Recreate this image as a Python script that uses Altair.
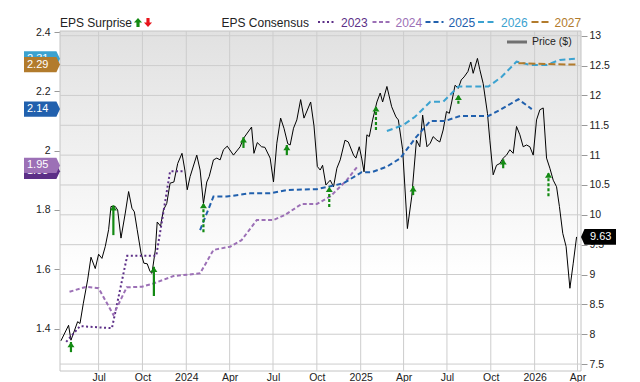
import altair as alt
import pandas as pd

# ---------------- data ----------------
BASE_DATE = pd.Timestamp("2023-07-01")   # day 0 of the offsets below

price_days = [-79, -63, -58, -44, -39, -32, -23, -16, -7, 0, 7, 14, 21, 26, 35, 40, 47, 56, 63, 70,
              75, 81, 89, 95, 102, 108, 112, 119, 123, 130, 136, 143, 150, 158, 166, 175, 181, 186, 192, 206,
              213, 220, 227, 232, 241, 248, 255, 262, 270, 283, 297, 304, 321, 326, 333, 342, 349, 360, 367, 374,
              382, 389, 397, 402, 409, 416, 424, 431, 445, 452, 459, 465, 470, 477, 486, 493, 500, 507, 517, 524,
              535, 540, 547, 552, 557, 563, 568, 575, 584, 591, 596, 605, 615, 624, 629, 638, 648, 657, 667, 674,
              680, 689, 696, 702, 710, 716, 723, 730, 736, 741, 748, 755, 761, 767, 775, 781, 786, 795, 800, 807,
              816, 821, 828, 835, 842, 849, 856, 863, 870, 877, 884, 891, 898, 905, 912, 919, 926, 933, 940, 947,
              954, 961, 967, 974, 981, 989, 996, 1003]
price_vals = [7.89, 8.15, 7.90, 8.21, 8.18, 8.52, 8.91, 9.29, 9.10, 9.34, 9.27, 9.47, 9.75, 10.14, 10.14, 10.08, 9.61, 10.03, 10.39, 10.11,
              10.05, 9.75, 9.36, 9.19, 9.18, 9.05, 9.02, 9.41, 9.88, 9.81, 10.08, 10.19, 10.53, 10.55, 10.86, 11.03, 10.75, 10.42, 10.64, 11.00,
              10.75, 10.19, 10.55, 10.64, 10.92, 10.95, 10.92, 11.09, 11.15, 11.00, 11.14, 11.28, 11.47, 11.03, 11.21, 11.14, 11.13, 10.95, 10.55, 11.20,
              11.62, 11.45, 11.19, 11.17, 11.45, 11.59, 11.93, 11.62, 11.89, 11.49, 10.81, 10.75, 10.83, 10.50, 10.58, 10.47, 10.78, 10.92, 11.25, 11.22,
              11.00, 10.95, 11.14, 10.95, 10.72, 11.34, 11.31, 11.59, 11.89, 12.04, 11.89, 12.15, 11.81, 11.64, 11.59, 11.09, 9.77, 10.30, 11.25, 11.14,
              11.67, 11.14, 11.20, 11.31, 11.25, 11.22, 11.42, 11.73, 11.70, 11.89, 12.17, 12.12, 12.26, 12.31, 12.40, 12.56, 12.37, 12.62, 12.43, 12.20,
              11.70, 11.25, 10.67, 10.83, 10.86, 10.95, 11.00, 11.09, 11.03, 11.48, 11.34, 11.14, 11.17, 11.14, 11.00, 11.59, 11.76, 11.79, 10.95, 10.78,
              10.58, 10.47, 10.14, 9.69, 9.47, 8.77, 9.19, 9.63]

eps2023_days = [-68, -39, 28, 60, 121, 150, 181]
eps2023_vals = [1.355, 1.408, 1.401, 1.645, 1.645, 1.93, 1.93]
eps2024_days = [-61, -25, 0, 31, 59, 91, 115, 157, 213, 241, 276, 300, 332, 367, 391, 426, 458, 486, 521, 545]
eps2024_vals = [1.524, 1.541, 1.536, 1.446, 1.539, 1.541, 1.552, 1.577, 1.586, 1.665, 1.676, 1.698, 1.766, 1.766,
                1.783, 1.820, 1.820, 1.845, 1.901, 1.95]
eps2025_days = [213, 241, 269, 318, 360, 395, 458, 482, 514, 552, 573, 605, 633, 664, 696, 727, 759, 818, 842, 881, 909]
eps2025_vals = [1.732, 1.845, 1.845, 1.856, 1.856, 1.867, 1.870, 1.878, 1.890, 1.927, 1.927, 1.946, 1.974, 2.041,
                2.100, 2.100, 2.117, 2.117, 2.137, 2.173, 2.14]
eps2026_days = [605, 639, 664, 696, 723, 755, 818, 846, 877, 905, 940, 968, 1003]
eps2026_vals = [2.066, 2.086, 2.114, 2.165, 2.165, 2.216, 2.216, 2.249, 2.300, 2.289, 2.289, 2.306, 2.31]
eps2027_days = [881, 940, 1003]
eps2027_vals = [2.295, 2.292, 2.29]

arrow_days = [-58, 31, 116, 220, 304, 395, 484, 582, 660, 755, 849, 944]
arrow_low = [7.70, 9.66, 8.64, 9.71, 11.12, 11.00, 10.13, 11.42, 10.33, 11.86, 10.78, 10.31]
arrow_high = [7.87, 10.16, 9.13, 10.20, 11.30, 11.17, 10.47, 11.82, 10.48, 12.01, 10.93, 10.71]
arrow_dashed = [False, False, False, True, False, False, True, True, False, True, False, True]

quarter_ticks = ["2023-07-01", "2023-10-01", "2024-01-01", "2024-04-01", "2024-07-01", "2024-10-01",
                 "2025-01-01", "2025-04-01", "2025-07-01", "2025-10-01", "2026-01-01", "2026-04-01"]
price_ticks = [7.5, 8, 8.5, 9, 9.5, 10, 10.5, 11, 11.5, 12, 12.5, 13]
eps_ticks = [1.4, 1.6, 1.8, 2.0, 2.2, 2.4]

series_names = ["2023", "2024", "2025", "2026", "2027"]
series_colors = ["#5c2f87", "#9c70b6", "#2160ad", "#3ba2d0", "#b27b2c"]
series_dash = [[2, 2.5], [4, 2.5], [5, 3], [6, 3.5], [7, 3]]

# ---------------- layout / style ----------------
W, H = 521, 340
FONT = "Liberation Sans"
GREEN = "#138a13"


def to_dates(days):
    return [(BASE_DATE + pd.Timedelta(days=d)).strftime("%Y-%m-%dT%H:%M:%S") for d in days]


xscale = alt.Scale(domain=[alt.DateTime(year=2023, month=4, date=11),
                           alt.DateTime(year=2026, month=4, date=8, hours=7)])
pscale = alt.Scale(domain=[7.384, 13.079], nice=False, zero=False)
escale = alt.Scale(domain=[1.2567, 2.4034], nice=False, zero=False)

xaxis = alt.Axis(
    values=[alt.DateTime(year=int(s[:4]), month=int(s[5:7]), date=1) for s in quarter_ticks],
    labelExpr="month(datum.value) == 0 ? timeFormat(datum.value, '%Y') : timeFormat(datum.value, '%b')",
    grid=False, domain=False, ticks=False, labelPadding=1, labelFlush=False,
    labelFont=FONT, labelFontSize=10.5, labelColor="#222", title=None)
raxis = alt.Axis(orient="right", values=price_ticks, format="~g", grid=False, domain=False,
                 tickSize=6, tickColor="#999", labelPadding=2, labelFont=FONT, labelFontSize=10.5,
                 labelColor="#222", title=None)
laxis = alt.Axis(orient="left", values=eps_ticks, format="~g", grid=False, domain=False,
                 tickSize=6, tickColor="#999", labelPadding=4, labelFont=FONT, labelFontSize=10.5,
                 labelColor="#222", title=None)


def deco():
    return alt.Chart(alt.Data(values=[{"k": 0}]))


layers = []

# background with gradient + border
layers.append(deco().mark_rect(
    fill={"gradient": "linear", "x1": 0, "y1": 0, "x2": 0, "y2": 1,
          "stops": [{"offset": 0, "color": "#e1e1e1"}, {"offset": 0.72, "color": "#ffffff"},
                    {"offset": 1, "color": "#ffffff"}]},
    stroke="#c4c4c4", strokeWidth=1
).encode(x=alt.value(0), x2=alt.value(W), y=alt.value(0), y2=alt.value(H)))

# grid
layers.append(alt.Chart(pd.DataFrame({"date": [s + "T00:00:00" for s in quarter_ticks]})).mark_rule(
    color="#cdcdcd", strokeWidth=1).encode(
    x=alt.X("date:T", scale=xscale, axis=xaxis), y=alt.value(0), y2=alt.value(H)))
layers.append(alt.Chart(pd.DataFrame({"price": price_ticks})).mark_rule(
    color="#cdcdcd", strokeWidth=1).encode(
    y=alt.Y("price:Q", scale=pscale, axis=raxis), x=alt.value(0), x2=alt.value(W)))

# price line
price_df = pd.DataFrame({"date": to_dates(price_days), "price": price_vals})
layers.append(alt.Chart(price_df).mark_line(color="#000000", strokeWidth=1).encode(
    x=alt.X("date:T", scale=xscale, axis=xaxis),
    y=alt.Y("price:Q", scale=pscale, axis=None)))

# EPS consensus lines
eps_days = [eps2023_days, eps2024_days, eps2025_days, eps2026_days, eps2027_days]
eps_vals = [eps2023_vals, eps2024_vals, eps2025_vals, eps2026_vals, eps2027_vals]
for i in range(5):
    df = pd.DataFrame({"date": to_dates(eps_days[i]), "eps": eps_vals[i]})
    layers.append(alt.Chart(df).mark_line(color=series_colors[i], strokeDash=series_dash[i],
                                          strokeWidth=2).encode(
        x=alt.X("date:T", scale=xscale, axis=xaxis),
        y=alt.Y("eps:Q", scale=escale, axis=laxis if i == 0 else None)))

# surprise arrows
arr_df = pd.DataFrame({"date": to_dates(arrow_days), "low": arrow_low, "high": arrow_high,
                       "dashed": arrow_dashed})
for dashed in (False, True):
    sub = arr_df[arr_df["dashed"] == dashed]
    kw = {"strokeDash": [3, 2]} if dashed else {}
    layers.append(alt.Chart(sub).mark_rule(color=GREEN, strokeWidth=2.2, **kw).encode(
        x=alt.X("date:T", scale=xscale, axis=xaxis),
        y=alt.Y("low:Q", scale=pscale, axis=None), y2="high:Q"))
layers.append(alt.Chart(arr_df).mark_point(
    shape="M0,0L1,1.5L-1,1.5Z", size=49, filled=True, opacity=1, color=GREEN, strokeWidth=0).encode(
    x=alt.X("date:T", scale=xscale, axis=xaxis),
    y=alt.Y("high:Q", scale=pscale, axis=None)))

# EPS value tags on the left axis
TAG_L = "M-1,-0.42L0.8,-0.42L1,0L0.8,0.42L-1,0.42Z"
for i in range(5):
    v = eps_vals[i][-1]
    df = pd.DataFrame({"eps": [v], "label": [f"{v:.2f}"]})
    base = alt.Chart(df).encode(y=alt.Y("eps:Q", scale=escale, axis=None))
    layers.append(base.mark_point(shape=TAG_L, size=1296, filled=True, opacity=1,
                                  color=series_colors[i], strokeWidth=0).encode(x=alt.value(-18)))
    layers.append(base.mark_text(align="left", baseline="middle", color="white", font=FONT,
                                 fontSize=11).encode(x=alt.value(-33), text="label:N"))

# last price tag on the right axis
TAG_R = "M1,-0.45L-0.8,-0.45L-1,0L-0.8,0.45L1,0.45Z"
pt = pd.DataFrame({"price": [price_vals[-1]], "label": [f"{price_vals[-1]:.2f}"]})
pbase = alt.Chart(pt).encode(y=alt.Y("price:Q", scale=pscale, axis=None))
layers.append(pbase.mark_point(shape=TAG_R, size=1225, filled=True, opacity=1, color="#000000",
                               strokeWidth=0).encode(x=alt.value(W + 17.5)))
layers.append(pbase.mark_text(align="left", baseline="middle", color="white", font=FONT,
                              fontSize=11).encode(x=alt.value(W + 9), text="label:N"))

# ---------------- legends ----------------
def label(txt, x, y, color="#222222", size=12):
    return deco().mark_text(text=txt, align="left", baseline="middle", font=FONT, fontSize=size,
                            color=color).encode(x=alt.value(x), y=alt.value(y))


LY = -8.5
layers.append(label("EPS Surprise", 0, LY))
ARROW_UP = "M0,-1L0.9,0L0.35,0L0.35,1L-0.35,1L-0.35,0L-0.9,0Z"
ARROW_DN = "M0,1L0.9,0L0.35,0L0.35,-1L-0.35,-1L-0.35,0L-0.9,0Z"
layers.append(deco().mark_point(shape=ARROW_UP, size=81, filled=True, opacity=1, color=GREEN,
                                strokeWidth=0).encode(x=alt.value(78), y=alt.value(LY)))
layers.append(deco().mark_point(shape=ARROW_DN, size=81, filled=True, opacity=1, color="#e8141b",
                                strokeWidth=0).encode(x=alt.value(88), y=alt.value(LY)))
layers.append(label("EPS Consensus", 161.5, LY))
leg_x = [258, 312.5, 365.5, 418, 471.5]
for i in range(5):
    layers.append(deco().mark_rule(color=series_colors[i], strokeDash=series_dash[i],
                                   strokeWidth=2).encode(
        x=alt.value(leg_x[i]), x2=alt.value(leg_x[i] + 18), y=alt.value(LY - 0.5)))
    layers.append(label(series_names[i], leg_x[i] + 23, LY, color=series_colors[i]))

layers.append(deco().mark_rule(color="#707070", strokeWidth=3).encode(
    x=alt.value(447), x2=alt.value(467), y=alt.value(11)))
layers.append(label("Price ($)", 472, 11, size=10.5))

chart = alt.layer(*layers).resolve_scale(y="independent").properties(
    width=W, height=H,
    autosize=alt.AutoSizeParams(type="none"),
    padding={"left": 60, "top": 31, "right": 59, "bottom": 11},
).configure_view(stroke=None)

chart.save("out.html", embed_options={"renderer": "svg", "actions": False})
